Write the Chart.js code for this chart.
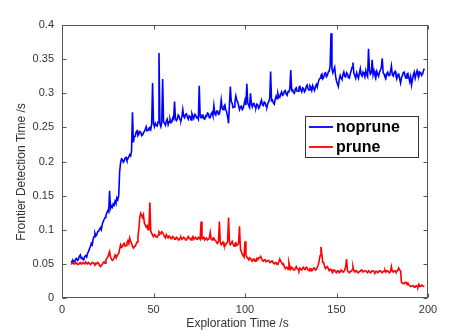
<!DOCTYPE html>
<html>
<head>
<meta charset="utf-8">
<script src="https://cdn.jsdelivr.net/npm/chart.js@4/dist/chart.umd.min.js"></script>
<style>
  html, body { margin: 0; padding: 0; background: #fff; }
  #wrap { width: 474px; height: 336px; }
</style>
</head>
<body>
<div id="wrap"><canvas id="c" width="474" height="336"></canvas></div>
<script>
// Sample times (s), one row per 10 s
const timeS = [
  5,5.5,6,6.5,7,7.5,8,8.5,9,9.5,10,10.5,11,11.5,12,12.5,13,13.5,14,14.5,
  15,15.5,16,16.5,17,17.5,18,18.5,19,19.5,20,20.5,21,21.5,22,22.5,23,23.5,24,24.5,
  25,25.5,26,26.5,27,27.5,28,28.5,29,29.5,30,30.5,31,31.5,32,32.5,33,33.5,34,34.5,
  35,35.5,36,36.5,37,37.5,38,38.5,39,39.5,40,40.5,41,41.5,42,42.5,43,43.5,44,44.5,
  45,45.5,46,46.5,47,47.5,48,48.5,49,49.5,50,50.5,51,51.5,52,52.5,53,53.5,54,54.5,
  55,55.5,56,56.5,57,57.5,58,58.5,59,59.5,60,60.5,61,61.5,62,62.5,63,63.5,64,64.5,
  65,65.5,66,66.5,67,67.5,68,68.5,69,69.5,70,70.5,71,71.5,72,72.5,73,73.5,74,74.5,
  75,75.5,76,76.5,77,77.5,78,78.5,79,79.5,80,80.5,81,81.5,82,82.5,83,83.5,84,84.5,
  85,85.5,86,86.5,87,87.5,88,88.5,89,89.5,90,90.5,91,91.5,92,92.5,93,93.5,94,94.5,
  95,95.5,96,96.5,97,97.5,98,98.5,99,99.5,100,100.5,101,101.5,102,102.5,103,103.5,104,104.5,
  105,105.5,106,106.5,107,107.5,108,108.5,109,109.5,110,110.5,111,111.5,112,112.5,113,113.5,114,114.5,
  115,115.5,116,116.5,117,117.5,118,118.5,119,119.5,120,120.5,121,121.5,122,122.5,123,123.5,124,124.5,
  125,125.5,126,126.5,127,127.5,128,128.5,129,129.5,130,130.5,131,131.5,132,132.5,133,133.5,134,134.5,
  135,135.5,136,136.5,137,137.5,138,138.5,139,139.5,140,140.5,141,141.5,142,142.5,143,143.5,144,144.5,
  145,145.5,146,146.5,147,147.5,148,148.5,149,149.5,150,150.5,151,151.5,152,152.5,153,153.5,154,154.5,
  155,155.5,156,156.5,157,157.5,158,158.5,159,159.5,160,160.5,161,161.5,162,162.5,163,163.5,164,164.5,
  165,165.5,166,166.5,167,167.5,168,168.5,169,169.5,170,170.5,171,171.5,172,172.5,173,173.5,174,174.5,
  175,175.5,176,176.5,177,177.5,178,178.5,179,179.5,180,180.5,181,181.5,182,182.5,183,183.5,184,184.5,
  185,185.5,186,186.5,187,187.5,188,188.5,189,189.5,190,190.5,191,191.5,192,192.5,193,193.5,194,194.5,
  195,195.5,196,196.5,197,197.5,198
];

// Frontier detection time without pruning (s)
const noprune = [
  0.052,0.054,0.055,0.053,0.054,0.057,0.058,0.055,0.057,0.061,0.063,0.058,0.059,0.056,0.058,0.061,0.062,0.060,0.066,0.068,
  0.072,0.075,0.080,0.078,0.086,0.090,0.095,0.091,0.093,0.097,0.098,0.101,0.103,0.100,0.108,0.112,0.115,0.118,0.121,0.125,
  0.128,0.126,0.157,0.131,0.135,0.133,0.138,0.136,0.142,0.139,0.147,0.144,0.150,0.185,0.198,0.204,0.203,0.199,0.201,0.205,
  0.206,0.202,0.204,0.207,0.210,0.208,0.215,0.272,0.228,0.236,0.237,0.243,0.245,0.238,0.240,0.244,0.243,0.238,0.239,0.242,
  0.244,0.247,0.251,0.245,0.246,0.249,0.250,0.247,0.255,0.315,0.256,0.251,0.256,0.253,0.252,0.258,0.359,0.255,0.251,0.257,
  0.321,0.258,0.256,0.253,0.259,0.262,0.254,0.258,0.262,0.257,0.258,0.264,0.262,0.288,0.263,0.260,0.262,0.268,0.266,0.261,
  0.260,0.265,0.276,0.266,0.264,0.269,0.270,0.265,0.262,0.267,0.266,0.261,0.270,0.266,0.263,0.269,0.268,0.264,0.265,0.262,
  0.311,0.266,0.264,0.268,0.268,0.263,0.262,0.267,0.266,0.271,0.270,0.264,0.264,0.270,0.272,0.267,0.282,0.270,0.268,0.274,
  0.274,0.269,0.270,0.277,0.290,0.278,0.276,0.281,0.283,0.276,0.272,0.266,0.256,0.284,0.310,0.288,0.285,0.279,0.280,0.287,
  0.296,0.290,0.287,0.282,0.276,0.280,0.281,0.276,0.278,0.284,0.290,0.283,0.314,0.286,0.282,0.279,0.300,0.284,0.280,0.285,
  0.285,0.280,0.279,0.284,0.283,0.278,0.280,0.286,0.290,0.283,0.282,0.287,0.286,0.281,0.280,0.285,0.288,0.292,0.332,0.289,
  0.290,0.286,0.284,0.291,0.296,0.292,0.300,0.295,0.294,0.299,0.302,0.297,0.298,0.303,0.304,0.299,0.297,0.302,0.303,0.306,
  0.334,0.304,0.305,0.301,0.300,0.306,0.308,0.303,0.303,0.309,0.310,0.305,0.302,0.308,0.307,0.302,0.304,0.310,0.312,0.306,
  0.305,0.311,0.309,0.304,0.311,0.307,0.304,0.310,0.313,0.309,0.316,0.320,0.322,0.326,0.328,0.321,0.323,0.329,0.330,0.324,
  0.326,0.331,0.332,0.340,0.388,0.336,0.330,0.334,0.338,0.325,0.318,0.314,0.310,0.320,0.326,0.322,0.320,0.327,0.331,0.325,
  0.324,0.330,0.328,0.323,0.322,0.328,0.333,0.338,0.345,0.329,0.326,0.322,0.330,0.326,0.322,0.329,0.336,0.327,0.325,0.331,
  0.329,0.324,0.333,0.327,0.324,0.365,0.334,0.328,0.330,0.349,0.327,0.333,0.327,0.323,0.332,0.328,0.325,0.331,0.334,0.338,
  0.351,0.330,0.328,0.324,0.322,0.329,0.331,0.326,0.326,0.332,0.340,0.327,0.325,0.330,0.332,0.326,0.322,0.327,0.328,0.321,
  0.315,0.323,0.326,0.330,0.331,0.325,0.322,0.328,0.329,0.323,0.317,0.324,0.312,0.320,0.327,0.331,0.322,0.328,0.333,0.327,
  0.325,0.331,0.330,0.326,0.328,0.333,0.336
];

// Frontier detection time with pruning (s)
const prune = [
  0.049,0.051,0.052,0.050,0.050,0.052,0.051,0.049,0.049,0.051,0.052,0.050,0.050,0.052,0.051,0.050,0.053,0.051,0.050,0.052,
  0.051,0.049,0.050,0.052,0.052,0.050,0.049,0.051,0.050,0.052,0.051,0.048,0.046,0.048,0.049,0.052,0.053,0.051,0.056,0.058,
  0.060,0.064,0.068,0.060,0.057,0.055,0.056,0.059,0.063,0.060,0.061,0.064,0.065,0.072,0.078,0.074,0.075,0.079,0.080,0.076,
  0.077,0.081,0.084,0.080,0.088,0.083,0.080,0.076,0.073,0.075,0.076,0.079,0.082,0.090,0.101,0.118,0.124,0.121,0.118,0.122,
  0.110,0.107,0.104,0.106,0.100,0.104,0.140,0.098,0.095,0.092,0.090,0.093,0.092,0.089,0.089,0.092,0.097,0.095,0.094,0.097,
  0.096,0.093,0.090,0.088,0.093,0.090,0.088,0.091,0.090,0.087,0.087,0.090,0.089,0.086,0.086,0.089,0.088,0.085,0.085,0.088,
  0.089,0.086,0.087,0.089,0.088,0.085,0.085,0.088,0.090,0.087,0.087,0.085,0.088,0.090,0.086,0.088,0.089,0.086,0.086,0.089,
  0.088,0.086,0.112,0.087,0.087,0.089,0.085,0.087,0.088,0.085,0.086,0.088,0.096,0.086,0.085,0.088,0.088,0.085,0.084,0.081,
  0.080,0.083,0.112,0.082,0.078,0.080,0.082,0.077,0.076,0.079,0.080,0.083,0.118,0.082,0.078,0.080,0.083,0.079,0.076,0.079,
  0.081,0.077,0.078,0.080,0.105,0.072,0.068,0.064,0.062,0.060,0.083,0.063,0.060,0.058,0.056,0.059,0.058,0.055,0.054,0.057,
  0.057,0.054,0.055,0.058,0.056,0.059,0.059,0.061,0.058,0.055,0.054,0.056,0.056,0.053,0.053,0.055,0.055,0.052,0.052,0.054,
  0.054,0.051,0.050,0.052,0.052,0.049,0.050,0.053,0.057,0.054,0.052,0.049,0.050,0.046,0.043,0.045,0.045,0.042,0.052,0.046,
  0.042,0.045,0.044,0.041,0.041,0.043,0.046,0.043,0.042,0.040,0.044,0.042,0.041,0.044,0.045,0.042,0.042,0.045,0.044,0.041,
  0.040,0.043,0.043,0.040,0.041,0.044,0.044,0.041,0.042,0.045,0.048,0.054,0.062,0.075,0.064,0.052,0.052,0.046,0.043,0.045,
  0.046,0.043,0.040,0.042,0.042,0.039,0.038,0.041,0.041,0.038,0.037,0.040,0.040,0.037,0.038,0.041,0.041,0.038,0.039,0.041,
  0.046,0.057,0.040,0.038,0.037,0.039,0.039,0.041,0.046,0.040,0.038,0.040,0.040,0.037,0.037,0.039,0.039,0.041,0.041,0.038,
  0.038,0.040,0.040,0.038,0.037,0.040,0.039,0.037,0.038,0.040,0.040,0.038,0.037,0.039,0.039,0.037,0.038,0.040,0.040,0.038,
  0.037,0.039,0.039,0.041,0.038,0.040,0.040,0.038,0.037,0.039,0.046,0.039,0.038,0.040,0.040,0.038,0.039,0.041,0.044,0.041,
  0.040,0.023,0.022,0.021,0.021,0.023,0.023,0.021,0.022,0.019,0.018,0.017,0.017,0.018,0.018,0.016,0.016,0.018,0.017,0.016,
  0.020,0.017,0.017,0.019,0.018,0.017,0.017
];

const xTicks = [0, 50, 100, 150, 200];
const yTicks = [0, 0.05, 0.1, 0.15, 0.2, 0.25, 0.3, 0.35, 0.4];
const xTickLabels = ['0', '50', '100', '150', '200'];
const yTickLabels = ['0', '0.05', '0.1', '0.15', '0.2', '0.25', '0.3', '0.35', '0.4'];
const xTitle = 'Exploration Time /s';
const yTitle = 'Frontier Detection Time /s';

const FONT = '"Liberation Sans", Arial, Helvetica, sans-serif';
const AXIS_COLOR = '#555555';
const TEXT_COLOR = '#333333';

Chart.defaults.font.family = FONT;

const pts = (vals) => vals.map((v, i) => ({ x: timeS[i], y: v }));

// Box around the axes with inward tick marks, axis titles and legend
const figureDecor = {
  id: 'figureDecor',
  afterDatasetsDraw(chart) {
    const { ctx, chartArea: a, scales: { x, y } } = chart;
    const L = Math.round(a.left) + 0.5, R = Math.round(a.right) - 0.5;
    const T = Math.round(a.top) + 0.5, B = Math.round(a.bottom) - 0.5;
    ctx.save();
    ctx.strokeStyle = AXIS_COLOR;
    ctx.lineWidth = 1;
    ctx.strokeRect(L, T, R - L, B - T);
    ctx.beginPath();
    xTicks.forEach(v => {
      const px = Math.round(x.getPixelForValue(v)) + 0.5;
      ctx.moveTo(px, B); ctx.lineTo(px, B - 4);
      ctx.moveTo(px, T); ctx.lineTo(px, T + 4);
    });
    yTicks.forEach(v => {
      const py = Math.round(y.getPixelForValue(v)) + 0.5;
      ctx.moveTo(L, py); ctx.lineTo(L + 4, py);
      ctx.moveTo(R, py); ctx.lineTo(R - 4, py);
    });
    ctx.stroke();

    // axis titles
    ctx.fillStyle = TEXT_COLOR;
    ctx.font = '12px ' + FONT;
    ctx.textAlign = 'center';
    ctx.textBaseline = 'middle';
    ctx.fillText(xTitle, 237.5, 324);
    ctx.translate(22, 172);
    ctx.rotate(-Math.PI / 2);
    ctx.fillText(yTitle, 0, 0);
    ctx.restore();

    // legend
    ctx.save();
    const box = { x: 305.5, y: 116.5, w: 113, h: 41 };
    ctx.fillStyle = '#ffffff';
    ctx.fillRect(box.x, box.y, box.w, box.h);
    ctx.strokeStyle = '#333333';
    ctx.lineWidth = 1;
    ctx.strokeRect(box.x, box.y, box.w, box.h);
    ctx.font = 'bold 16px ' + FONT;
    ctx.textAlign = 'left';
    ctx.textBaseline = 'middle';
    chart.data.datasets.forEach((ds, i) => {
      const ly = 127 + i * 20;
      ctx.strokeStyle = ds.borderColor;
      ctx.lineWidth = 1.8;
      ctx.beginPath();
      ctx.moveTo(309, ly); ctx.lineTo(333, ly);
      ctx.stroke();
      ctx.fillStyle = '#000000';
      ctx.fillText(ds.label, 336, ly + 1);
    });
    ctx.restore();
  }
};

new Chart(document.getElementById('c'), {
  type: 'line',
  data: {
    datasets: [
      { label: 'noprune', data: pts(noprune), borderColor: '#0000ff', borderWidth: 1.6, pointRadius: 0, tension: 0, fill: false },
      { label: 'prune', data: pts(prune), borderColor: '#ff0000', borderWidth: 1.6, pointRadius: 0, tension: 0, fill: false }
    ]
  },
  options: {
    responsive: false,
    devicePixelRatio: 1,
    animation: false,
    layout: { padding: { left: 0, top: 25, right: 46, bottom: 0 } },
    plugins: { legend: { display: false }, tooltip: { enabled: false } },
    scales: {
      x: {
        type: 'linear', min: 0, max: 200,
        afterBuildTicks: s => { s.ticks = xTicks.map(v => ({ value: v })); },
        afterFit: s => { s.height = 38; },
        grid: { display: false, drawTicks: false },
        border: { display: false },
        ticks: {
          padding: 5, color: TEXT_COLOR, font: { size: 11 }, maxRotation: 0,
          callback: (v) => xTickLabels[xTicks.indexOf(v)]
        }
      },
      y: {
        type: 'linear', min: 0, max: 0.4,
        afterBuildTicks: s => { s.ticks = yTicks.map(v => ({ value: v })); },
        afterFit: s => { s.width = 62; },
        grid: { display: false, drawTicks: false },
        border: { display: false },
        ticks: {
          padding: 8, color: TEXT_COLOR, font: { size: 11 },
          callback: (v) => yTickLabels[yTicks.findIndex(t => Math.abs(t - v) < 1e-9)]
        }
      }
    }
  },
  plugins: [figureDecor]
});
</script>
</body>
</html>
